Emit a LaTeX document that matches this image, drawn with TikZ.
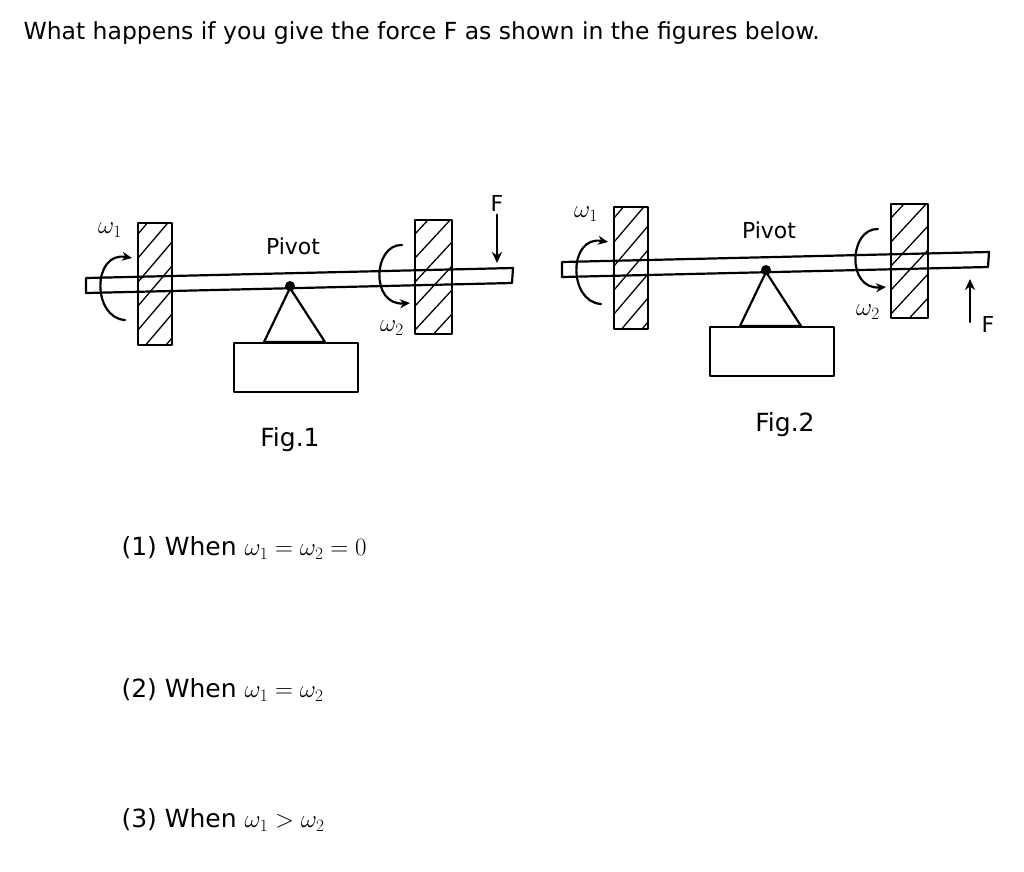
\documentclass[tikz,border=0pt]{standalone}
\usepackage{fontspec}
\setmainfont{DejaVu Sans}
\usetikzlibrary{arrows.meta}
\tikzset{
 ln/.style={line width=2.2pt,line cap=round,line join=round},
 hl/.style={line width=1.3pt},
 hand/.style={font=\fontsize{25}{30}\selectfont},
 lbl/.style={font=\fontsize{22}{26}\selectfont},
 rotor/.pic={
   \draw[ln] (-204,-8) -- (223,-18) -- (222,-3) -- (-204,7) -- cycle;
   \begin{scope}
     \clip (-152,-63) rectangle (-118,59);
     \foreach \k in {-140,-116,...,100} \draw[hl] (-152,\k+40) -- (-118,\k);
   \end{scope}
   \draw[ln] (-152,-63) rectangle (-118,59);
   \begin{scope}
     \clip (125,-66) rectangle (162,48);
     \foreach \k in {-140,-116,...,100} \draw[hl] (125,\k+40) -- (162,\k);
   \end{scope}
   \draw[ln] (125,-66) rectangle (162,48);
   \fill (0,0) circle (5pt);
   \node[lbl] (pv) at (3,-40) {Pivot};
   \draw[ln] (0,2) -- (-26,56) -- (35,56) -- cycle;
   \draw[ln] (-56,57) rectangle (68,106);
   \draw[ln,-{Stealth[length=10pt,width=9pt]}] (-165,34) .. controls (-198,32) and (-198,-35) .. (-158,-28);
   \draw[ln,-{Stealth[length=10pt,width=9pt]}] (112,-41) .. controls (83,-42) and (80,20) .. (120,17);
   \node[hand] (w1) at (-180,-56) {$\omega_1$};
   \node[hand] (w2) at (102,42) {$\omega_2$};
 }
}
\begin{document}
\begin{tikzpicture}[x=1pt,y=-1pt]
\useasboundingbox (0,0) rectangle (1024,871);
\node[anchor=west,font=\fontsize{23.5}{28}\selectfont] (title) at (20,33) {What happens if you give the force F as shown in the figures below.};
\pic (a) at (290,286) {rotor};
\pic (b) at (766,270) {rotor};
\node[lbl] (f1) at (497,203) {F};
\coordinate (f1e) at (497,263);
\draw[ln,-{Stealth[length=11pt,width=10pt]}] (f1.south) -- (f1e);
\node[lbl] (f2) at (988,324) {F};
\coordinate (f2s) at (970,322);
\coordinate (f2e) at (970,279);
\draw[ln,-{Stealth[length=11pt,width=10pt]}] (f2s) -- (f2e);
\node[hand] (c1) at (290,440) {Fig.1};
\node[hand] (c2) at (785,425) {Fig.2};
\node[hand,anchor=west] (q1) at (118,548) {(1) When $\omega_1=\omega_2=0$};
\node[hand,anchor=west] (q2) at (118,690) {(2) When $\omega_1=\omega_2$};
\node[hand,anchor=west] (q3) at (118,820) {(3) When $\omega_1>\omega_2$};
\end{tikzpicture}
\end{document}
